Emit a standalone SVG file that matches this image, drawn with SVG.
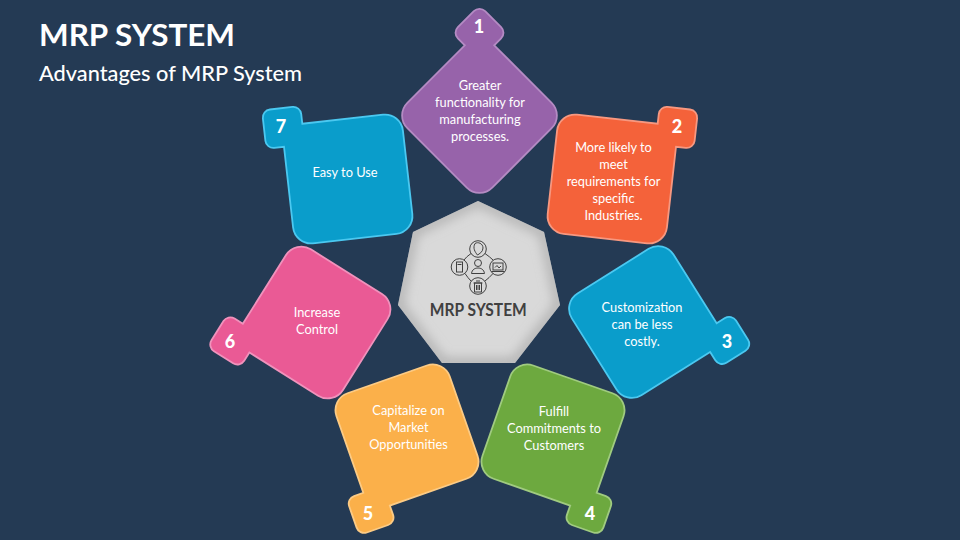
<svg xmlns="http://www.w3.org/2000/svg" width="960" height="540" viewBox="0 0 960 540">
<style>
text{font-family:"Lato","Liberation Sans",sans-serif;fill:#fff;text-anchor:middle}
.l{font-size:12.800px}
.n{font-size:18px;font-weight:900}
.i{fill:none;stroke:#404040;stroke-width:1}
</style>
<defs>
<path id="s" d="M-39.200,-60H42A18,18 0 0 1 60,-42V42A18,18 0 0 1 42,60H-42A18,18 0 0 1 -60,42V-39.200H-69.800A8,8 0 0 1 -77.800,-47.200V-69.800A8,8 0 0 1 -69.800,-77.800H-47.200A8,8 0 0 1 -39.200,-69.800Z" stroke-width="1.800"/>
<clipPath id="hc"><polygon points="478,201 544,232 560,305 515,363 442,363 398,305 413,232"/></clipPath>
<filter id="b" x="-20%" y="-20%" width="140%" height="140%"><feGaussianBlur stdDeviation="6"/></filter>
</defs>
<rect width="960" height="540" fill="#243A54"/>
<g id="title">
<text x="39" y="46" style="text-anchor:start;font-size:31px;font-weight:700" textLength="196" lengthAdjust="spacingAndGlyphs">MRP SYSTEM</text>
<text x="39" y="81" style="text-anchor:start;font-size:20.500px;font-weight:500" textLength="263" lengthAdjust="spacingAndGlyphs">Advantages of MRP System</text>
</g>
<g id="center">
<polygon points="478,201 544,232 560,305 515,363 442,363 398,305 413,232" fill="#D9D9D9"/>
<polygon points="478,201 544,232 560,305 515,363 442,363 398,305 413,232" fill="none" stroke="#A8A8A8" stroke-width="8" filter="url(#b)" clip-path="url(#hc)"/>
<g class="i">
<circle cx="478" cy="249" r="8.300"/><circle cx="459.500" cy="267" r="8.300"/><circle cx="498" cy="267" r="8.300"/><circle cx="478" cy="286" r="8.300"/>
<path d="M485,253.500Q490,257 493,260M471,253.500Q466,257 464,260M465,273.500Q468,278 471,281M493,273.500Q489,278 485,281"/>
<path d="M475,243.500C478,241.500 483,243.500 483,248C483,252 479,254 477.500,255C475,252 472.500,248 475,243.500Z"/>
<circle cx="478" cy="263" r="3.500"/>
<path d="M471.500,273.500C472,269.500 475,268 478,268C481,268 484,269.500 484.500,273.500Z"/>
<rect x="456.500" y="262" width="6" height="10"/><path d="M457.500,264.500H461.500"/>
<rect x="493" y="263" width="10" height="7"/><path d="M491.500,271.500H504.500M495,267.500L497,265.500L499,268L501,266"/>
<rect x="474.500" y="283" width="7" height="9"/><path d="M473.500,283H482.500M476,281H480M476.500,285V290M478,285V290M479.500,285V290"/>
</g>
<text x="478.300" y="316" style="font-size:16.500px;font-weight:700;fill:#404040" textLength="97" lengthAdjust="spacingAndGlyphs">MRP SYSTEM</text>
</g>
<g id="node1"><use href="#s" transform="translate(479.500,115.500) rotate(45)" fill="#9763AA" stroke="#B48BC3"/>
<text class="n" x="479" y="32.500">1</text>
<text class="l"><tspan x="480" y="90">Greater</tspan><tspan x="480" y="107">functionality for</tspan><tspan x="480" y="124">manufacturing</tspan><tspan x="480" y="141">processes.</tspan></text></g>
<g id="node2"><use href="#s" transform="translate(612,179) rotate(96.430)" fill="#F4623A" stroke="#F79880"/>
<text class="n" x="677" y="132.500">2</text>
<text class="l"><tspan x="613.500" y="152">More likely to</tspan><tspan x="613.500" y="169">meet</tspan><tspan x="613.500" y="186">requirements for</tspan><tspan x="613.500" y="203">specific</tspan><tspan x="613.500" y="219.500">Industries.</tspan></text></g>
<g id="node3"><use href="#s" transform="translate(645,322) rotate(147.860)" fill="#0A9DCB" stroke="#4BC8F0"/>
<text class="n" x="727" y="347.500">3</text>
<text class="l"><tspan x="642" y="312">Customization</tspan><tspan x="642" y="329">can be less</tspan><tspan x="642" y="346">costly.</tspan></text></g>
<g id="node4"><use href="#s" transform="translate(553,436) rotate(199.290)" fill="#6DA93F" stroke="#A0CB80"/>
<text class="n" x="590" y="519.500">4</text>
<text class="l"><tspan x="554" y="416">Fulfill</tspan><tspan x="554" y="433">Commitments to</tspan><tspan x="554" y="450">Customers</tspan></text></g>
<g id="node5"><use href="#s" transform="translate(407,436) rotate(250.710)" fill="#FBB04A" stroke="#FCCB85"/>
<text class="n" x="368" y="519.500">5</text>
<text class="l"><tspan x="408.500" y="415">Capitalize on</tspan><tspan x="408.500" y="432">Market</tspan><tspan x="408.500" y="449">Opportunities</tspan></text></g>
<g id="node6"><use href="#s" transform="translate(314.500,322.500) rotate(302.140)" fill="#EA5A95" stroke="#F092BC"/>
<text class="n" x="230" y="347.500">6</text>
<text class="l"><tspan x="317" y="317">Increase</tspan><tspan x="317" y="334">Control</tspan></text></g>
<g id="node7"><use href="#s" transform="translate(348,179) rotate(353.570)" fill="#0A9DCB" stroke="#4BC8F0"/>
<text class="n" x="281" y="132.500">7</text>
<text class="l"><tspan x="345" y="177">Easy to Use</tspan></text></g>
</svg>
